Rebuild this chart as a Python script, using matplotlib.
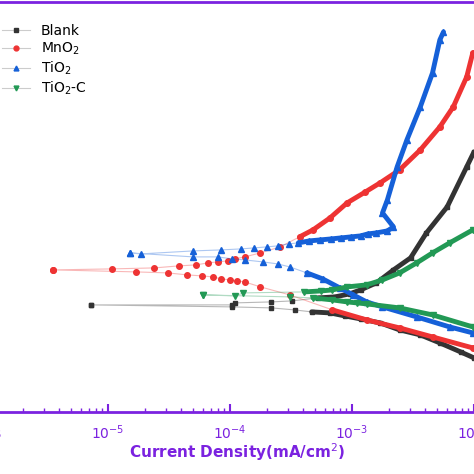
import matplotlib
matplotlib.use("Agg")
import matplotlib.pyplot as plt
import numpy as np
from matplotlib.ticker import LogLocator, NullFormatter
from matplotlib.lines import Line2D

# log10(current density, mA/cm2) and potential (mV), upper (anodic) then lower (cathodic) branch
blank_up_logi = [-5.14, -3.98, -3.96, -3.66, -3.49, -3.28, -3.14, -3.02, -2.93, -2.80, -2.66, -2.52, -2.39, -2.22, -2.06, -2.00]
blank_up_E = [-610, -610, -606, -604, -602, -596, -594, -588, -580, -566, -540, -516, -466, -414, -334, -304]
blank_lo_logi = [-5.14, -3.98, -3.66, -3.47, -3.33, -3.18, -3.06, -2.93, -2.77, -2.61, -2.44, -2.28, -2.11, -2.00]
blank_lo_E = [-610, -614, -616, -620, -624, -626, -632, -638, -646, -660, -670, -686, -704, -716]

mno2_up_logi = [-5.45, -4.97, -4.62, -4.42, -4.28, -4.18, -4.10, -4.02, -3.96, -3.88, -3.75, -3.59, -3.43, -3.32, -3.18, -3.04, -2.89, -2.77, -2.61, -2.44, -2.28, -2.17, -2.06, -2.01]
mno2_up_E = [-540, -538, -536, -532, -530, -526, -524, -522, -518, -514, -506, -494, -474, -460, -436, -406, -384, -366, -340, -300, -254, -214, -154, -106]
mno2_lo_logi = [-5.45, -4.77, -4.51, -4.35, -4.23, -4.14, -4.07, -4.00, -3.94, -3.88, -3.75, -3.51, -3.16, -2.88, -2.61, -2.34, -2.01]
mno2_lo_E = [-540, -544, -546, -550, -552, -554, -558, -560, -562, -564, -574, -590, -620, -640, -656, -674, -696]

tio2_up_logi = [-4.82, -4.73, -4.30, -4.07, -3.91, -3.80, -3.70, -3.61, -3.52, -3.44, -3.35, -3.26, -3.17, -3.09, -3.01, -2.93, -2.87, -2.80, -2.71, -2.66, -2.75, -2.71, -2.63, -2.55, -2.44, -2.34, -2.28, -2.25]
tio2_up_E = [-506, -508, -502, -500, -498, -496, -494, -492, -488, -486, -482, -480, -478, -476, -474, -472, -468, -466, -462, -454, -426, -400, -334, -280, -214, -146, -80, -64]
tio2_lo_logi = [-4.82, -4.30, -4.10, -3.98, -3.88, -3.73, -3.61, -3.51, -3.37, -3.24, -3.10, -2.99, -2.88, -2.75, -2.47, -2.20, -2.01]
tio2_lo_E = [-506, -514, -514, -518, -520, -524, -528, -534, -546, -558, -576, -590, -604, -614, -634, -654, -666]

tio2c_up_logi = [-4.22, -3.96, -3.89, -3.39, -3.25, -3.16, -3.04, -2.88, -2.75, -2.61, -2.47, -2.34, -2.20, -2.01]
tio2c_up_E = [-590, -592, -586, -584, -582, -580, -574, -570, -560, -546, -526, -506, -486, -460]
tio2c_lo_logi = [-4.22, -3.51, -3.32, -3.16, -3.04, -2.96, -2.88, -2.61, -2.34, -2.01]
tio2c_lo_E = [-590, -594, -596, -600, -604, -606, -608, -616, -630, -654]

series = [
    ("Blank", blank_up_logi, blank_up_E, blank_lo_logi, blank_lo_E, "#333333", "s", 3.5),
    ("MnO$_2$", mno2_up_logi, mno2_up_E, mno2_lo_logi, mno2_lo_E, "#EE3333", "o", 4),
    ("TiO$_2$", tio2_up_logi, tio2_up_E, tio2_lo_logi, tio2_lo_E, "#1560D8", "^", 4.5),
    ("TiO$_2$-C", tio2c_up_logi, tio2c_up_E, tio2c_lo_logi, tio2c_lo_E, "#229955", "v", 4.5),
]

purple = "#7B22E0"
fig = plt.figure(figsize=(4.74, 4.74), dpi=100)
ax = fig.add_axes([0.0, 0.131, 1.0, 0.865])

handles = []
for name, ul, ue, ll, le, c, m, ms in series:
    x = np.concatenate([np.array(ul)[::-1], np.array(ll)])
    y = np.concatenate([np.array(ue)[::-1], np.array(le)])
    cur = 10.0 ** x
    ax.plot(cur, y, color=c, lw=0.8, alpha=0.35)
    ax.plot(cur, y, ls="none", marker=m, color=c, ms=ms)
    for bl, be in ((ul, ue), (ll, le)):
        bl = np.array(bl); be = np.array(be)
        mask = bl >= -3.45
        ax.plot(10.0 ** bl[mask], be[mask], color=c, lw=3.5, solid_capstyle="round")
    handles.append(Line2D([0], [0], color="#cccccc", lw=0.8, marker=m, ms=3.5,
                          markerfacecolor=c, markeredgecolor=c, label=name))

ax.set_xscale("log")
ax.set_xlim(10 ** -5.885, 10 ** -2.0)
ax.set_ylim(-824, -4)
ax.set_yticks([])
for s in ("left", "right"):
    ax.spines[s].set_visible(False)
for s in ("top", "bottom"):
    ax.spines[s].set_color(purple)
    ax.spines[s].set_linewidth(2)
ax.xaxis.set_major_locator(LogLocator(base=10, numticks=10))
ax.xaxis.set_minor_locator(LogLocator(base=10, subs=np.arange(2, 10), numticks=20))
ax.xaxis.set_minor_formatter(NullFormatter())
ax.tick_params(axis="x", which="major", direction="in", length=6, width=1.5, color=purple,
               labelcolor=purple, labelsize=10, pad=8)
ax.tick_params(axis="x", which="minor", direction="in", length=3, width=1, color=purple)
ax.text(10 ** -6, -0.04, "10$^{-6}$", transform=ax.get_xaxis_transform(), color=purple,
        fontsize=10, ha="center", va="top", clip_on=False)
ax.set_xlabel("Current Density(mA/cm$^2$)", color=purple, fontsize=11, fontweight="bold", labelpad=0)

leg = ax.legend(handles=handles, loc="upper left", bbox_to_anchor=(-0.008, 0.96), frameon=False,
                fontsize=10, handlelength=2, labelspacing=0.2, borderaxespad=0)
fig.savefig("out.png", dpi=100)
